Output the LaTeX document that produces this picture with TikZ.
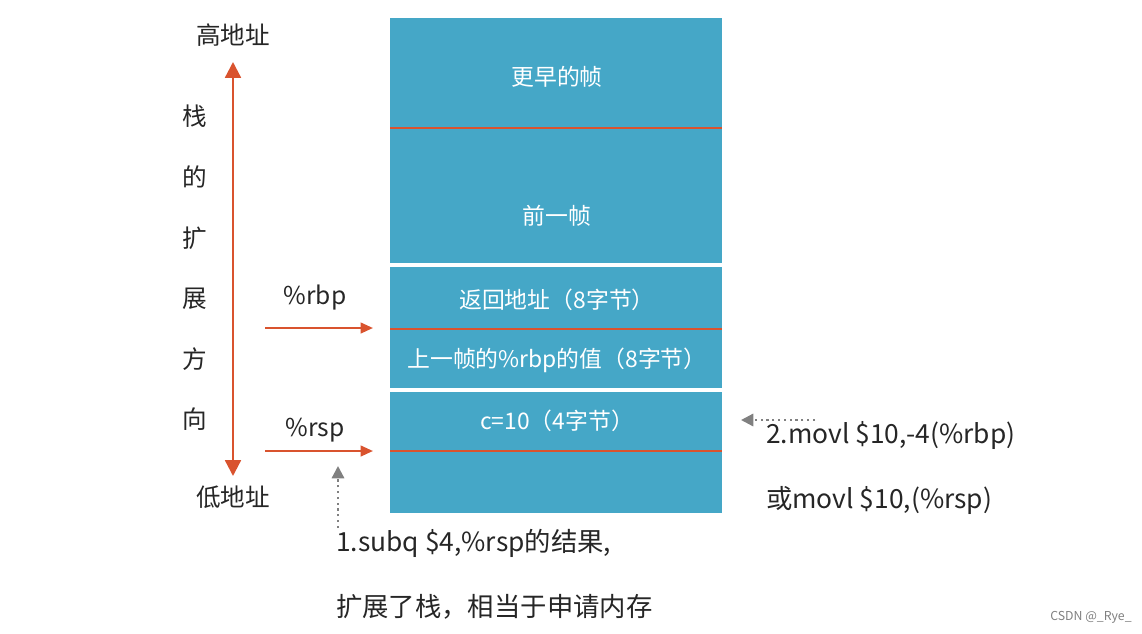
\documentclass[tikz,border=0pt]{standalone}
\usepackage{fontspec}
\setmainfont{Noto Sans CJK SC}
\usetikzlibrary{arrows.meta}
\definecolor{stk}{HTML}{45A7C7}
\definecolor{rd}{HTML}{D9532E}
\definecolor{gr}{HTML}{808080}
\begin{document}
\begin{tikzpicture}[x=0.02cm,y=-0.02cm,
  lbl/.style={font=\fontsize{13}{15}\selectfont,text=white},
  side/.style={font=\fontsize{14}{18}\selectfont,text=black!85},
  redarr/.style={rd,line width=1.3pt,-{Triangle[length=7pt,width=6pt]}},
  grayarr/.style={gr,line width=1.3pt,dotted,-{Triangle[length=7pt,width=7pt]}}]
\useasboundingbox (0,0) rectangle (1142,633);
\fill[stk] (390,18) rectangle (722,513);
\draw[white,line width=2pt] (390,265) -- (722,265) (390,390) -- (722,390);
\draw[rd,line width=1.5pt] (390,128) -- (722,128) (390,329) -- (722,329) (390,451) -- (722,451);
\node[lbl] (t1) at (557,77) {更早的帧};
\node[lbl] (t2) at (557,216) {前一帧};
\node[lbl] (t3) at (557,300) {返回地址（8字节）};
\node[lbl] (t4) at (557,360) {上一帧的\%rbp的值（8字节）};
\node[lbl] (t5) at (557,421) {c=10（4字节）};
\coordinate (vt) at (233,62); \coordinate (vb) at (233,476);
\draw[rd,line width=1.3pt,{Triangle[length=9pt,width=9pt]}-{Triangle[length=9pt,width=9pt]}] (vt) -- (vb);
\node[side] (hi) at (233,35) {高地址};
\node[side] (lo) at (233,497) {低地址};
\node[side,align=center,font=\fontsize{14}{34.5}\selectfont] (dir) at (195,268) {栈\\的\\扩\\展\\方\\向};
\node[side] (rbp) at (315,298) {\%rbp};
\node[side] (rsp) at (315,430) {\%rsp};
\coordinate (a1) at (265,328); \coordinate (a2) at (373,328);
\coordinate (b1) at (265,451); \coordinate (b2) at (373,451);
\draw[redarr] (a1) -- (a2);
\draw[redarr] (b1) -- (b2);
\coordinate (g1) at (338,528); \coordinate (g2) at (338,466);
\draw[grayarr] (g1) -- (g2);
\coordinate (h1) at (815,420); \coordinate (h2) at (741,420);
\draw[grayarr] (h1) -- (h2);
\node[side,anchor=west,align=left,font=\fontsize{15}{37}\selectfont\itshape] (n1) at (330,574) {1.subq \$4,\%rsp的结果,\\扩展了栈，相当于申请内存};
\node[side,anchor=west,align=left,font=\fontsize{15}{37}\selectfont\itshape] (n2) at (760,468) {2.movl \$10,-4(\%rbp)\\或movl \$10,(\%rsp)};
\node[text=gr,font=\fontsize{7}{8}\selectfont] (cs) at (1091,617) {CSDN @\_Rye\_};
\end{tikzpicture}
\end{document}
